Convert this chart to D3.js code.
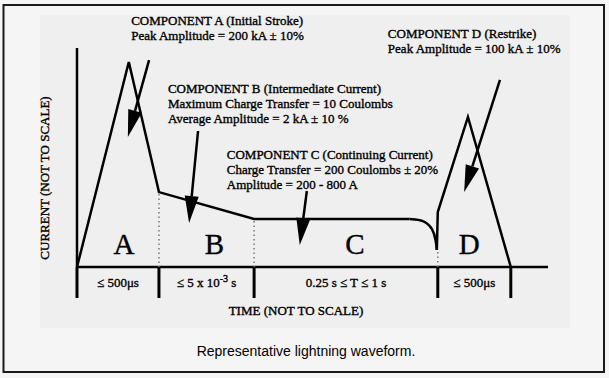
<!DOCTYPE html>
<html><head><meta charset="utf-8">
<script src="https://cdn.jsdelivr.net/npm/d3@7"></script>
<style>html,body{margin:0;padding:0;background:#f5f5f5;}svg{display:block;}</style>
</head><body>
<script>
// Waveform (abstract, not-to-scale units: time 0..100, current 0..100)
const waveA = [[0,0],[11.0,93.6],[17.4,34.2],[37.6,21.9],[70.6,21.9]];
const waveCTail = [[70.6,21.9],[73.6,21.6],[75.6,17.5],[76.2,12],[76.4,7.8]];
const waveD = [[76.4,7.8],[76.6,25.1],[83.0,68.5],[92.1,0]];
const boundaries = [0,17.4,37.6,76.6,92.1];
const dotted = [[17.4,34.2],[37.6,21.9],[76.6,7.8]];
const segmentLetters = ["A","B","C","D"];
const tickLabels = ["≤ 500μs","≤ 5 x 10|-3| s","0.25 s ≤ T ≤ 1 s","≤ 500μs"];
const arrows = [[[15.3,94.5],[10.8,59.4]],[[25.7,62.1],[23.8,20.1]],[[48.8,34.7],[47.3,10.0]],[[89.8,85.4],[82.2,34.2]]];
const annotations = [
  {anchor:[11.5,110.6], lines:["COMPONENT A (Initial Stroke)","Peak Amplitude = 200 kA ± 10%"]},
  {anchor:[19.3,79.4], lines:["COMPONENT B (Intermediate Current)","Maximum Charge Transfer = 10 Coulombs","Average Amplitude = 2 kA ± 10 %"]},
  {anchor:[31.8,49.3], lines:["COMPONENT C (Continuing Current)","Charge Transfer = 200 Coulombs ± 20%","Amplitude = 200 - 800 A"]},
  {anchor:[66.0,104.6], lines:["COMPONENT D (Restrike)","Peak Amplitude = 100 kA ± 10%"]}
];
const xLabel = "TIME (NOT TO SCALE)";
const yLabel = "CURRENT (NOT TO SCALE)";
const caption = "Representative lightning waveform.";

const W=609,H=378;
const svg=d3.select("body").append("svg").attr("width",W).attr("height",H);
svg.append("rect").attr("width",W).attr("height",H).attr("fill","#f5f5f5");
svg.append("rect").attr("x",40).attr("y",15).attr("width",530).attr("height",313).attr("fill","#efefef");
svg.append("rect").attr("x",3.5).attr("y",5).attr("width",600.5).attr("height",367).attr("fill","none").attr("stroke","#1a1a1a").attr("stroke-width",2);

const x=d3.scaleLinear().domain([0,100]).range([77,548]);
const y=d3.scaleLinear().domain([0,100]).range([267,48]);
const serif="'Liberation Serif','Times New Roman',serif";
const heavy=s=>s.attr("stroke","#000").attr("stroke-width",0.35).attr("fill","#000");

// axes
svg.append("line").attr("x1",x(0)).attr("x2",x(0)).attr("y1",y(0)).attr("y2",y(100)).attr("stroke","#000").attr("stroke-width",2.5);
svg.append("line").attr("x1",x(0)).attr("x2",x(100)).attr("y1",y(0)).attr("y2",y(0)).attr("stroke","#000").attr("stroke-width",2.5);
svg.selectAll(".tick").data(boundaries).enter().append("line")
  .attr("x1",d=>x(d)).attr("x2",d=>x(d)).attr("y1",y(0)).attr("y2",y(0)+31)
  .attr("stroke","#000").attr("stroke-width",3);

// dotted separators
svg.selectAll(".dot").data(dotted).enter().append("line")
  .attr("x1",d=>x(d[0])).attr("x2",d=>x(d[0])).attr("y1",d=>y(d[1])+2).attr("y2",y(0))
  .attr("stroke","#777").attr("stroke-width",1.5).attr("stroke-dasharray","1.5,3");

// waveform
const line=d3.line().x(d=>x(d[0])).y(d=>y(d[1]));
const wstyle=p=>p.attr("fill","none").attr("stroke","#000").attr("stroke-width",2.5).attr("stroke-linejoin","miter");
svg.append("path").attr("d",line(waveA)).call(wstyle);
svg.append("path").attr("d",line.curve(d3.curveBasis)(waveCTail)).call(wstyle);
line.curve(d3.curveLinear);
svg.append("path").attr("d",line(waveD)).call(wstyle);

// arrows
arrows.forEach(([s,e])=>{
  const x1=x(s[0]),y1=y(s[1]),x2=x(e[0]),y2=y(e[1]);
  const dx=x2-x1,dy=y2-y1,L=Math.hypot(dx,dy),ux=dx/L,uy=dy/L;
  const hl=27,hw=7;
  const bx=x2-ux*hl,by=y2-uy*hl;
  svg.append("line").attr("x1",x1).attr("y1",y1).attr("x2",bx).attr("y2",by).attr("stroke","#000").attr("stroke-width",2.5);
  svg.append("path").attr("d",`M${x2},${y2}L${bx-uy*hw},${by+ux*hw}L${bx+uy*hw},${by-ux*hw}Z`).attr("fill","#000");
});

// segment letters
svg.selectAll(".seg").data(segmentLetters).enter().append("text")
  .attr("x",(d,i)=>x((boundaries[i]+boundaries[i+1])/2)+[6,8,9,-5][i])
  .attr("y",y(0)-13).attr("text-anchor","middle")
  .attr("font-family",serif).attr("font-size",29).call(heavy).text(d=>d);

// tick labels
svg.selectAll(".tl").data(tickLabels).enter().append("text")
  .attr("x",(d,i)=>x((boundaries[i]+boundaries[i+1])/2))
  .attr("y",y(0)+20).attr("text-anchor","middle")
  .attr("font-family",serif).attr("font-size",13).call(heavy)
  .each(function(d){
    const parts=d.split("|");
    const t=d3.select(this);
    parts.forEach((p,k)=>{
      const ts=t.append("tspan").text(p);
      if(k===1){ts.attr("dy",-5).attr("font-size",10);}
      if(k===2){ts.attr("dy",5);}
    });
  });

// axis titles
svg.append("text").attr("x",296).attr("y",315).attr("text-anchor","middle")
  .attr("font-family",serif).attr("font-size",13).call(heavy).text(xLabel);
svg.append("text").attr("transform","translate(49,178) rotate(-90)").attr("text-anchor","middle")
  .attr("font-family",serif).attr("font-size",13).call(heavy).text(yLabel);

// annotations
annotations.forEach(a=>{
  const t=svg.append("text").attr("font-family",serif).attr("font-size",13).call(heavy)
    .attr("x",x(a.anchor[0])).attr("y",y(a.anchor[1]));
  a.lines.forEach((l,i)=>t.append("tspan").attr("x",x(a.anchor[0])).attr("dy",i?15:0).text(l));
});

// caption
svg.append("text").attr("x",306).attr("y",356).attr("text-anchor","middle")
  .attr("font-family","'Liberation Sans',Arial,sans-serif").attr("font-size",14).text(caption);
</script>
</body></html>
